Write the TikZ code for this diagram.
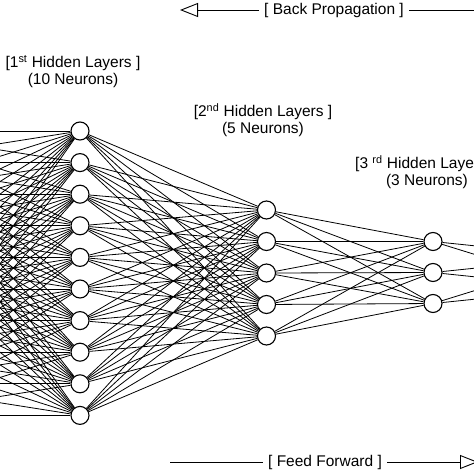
\documentclass[tikz,border=0pt]{standalone}
\usepackage{fontspec}
\setmainfont{Liberation Sans}
\usetikzlibrary{arrows.meta}
\tikzset{
  neuron/.style={circle,draw,line width=1.1pt,fill=white,minimum size=18pt,inner sep=0pt},
  synapse/.style={line width=0.8pt},
  layertext/.style={align=center,font=\fontsize{15.5}{17}\selectfont,inner sep=0pt},
  flowtext/.style={font=\fontsize{15.5}{17}\selectfont,inner sep=5pt},
  flowarrow/.style={line width=0.9pt,-{Triangle[open,length=18pt,width=14pt]}}
}
\begin{document}
\begin{tikzpicture}[x=1pt,y=-1pt]
  \useasboundingbox (0,0) rectangle (474,474);
  \clip (0,0) rectangle (474,474);
  \foreach \i in {1,...,10} \node[neuron] (in-\i) at (-120,{131+31.6*(\i-1)}) {};
  \foreach \i in {1,...,10} \node[neuron] (ha-\i) at (80,{131+31.6*(\i-1)}) {};
  \foreach \i in {1,...,5} \node[neuron] (hb-\i) at (266.5,{210+31.5*(\i-1)}) {};
  \foreach \i in {1,...,3} \node[neuron] (hc-\i) at (433,{241.5+31*(\i-1)}) {};
  \foreach \i in {1,2} \node[neuron] (out-\i) at (583,{257+31*(\i-1)}) {};
  \foreach \i in {1,...,10} \foreach \j in {1,...,10} \draw[synapse] (in-\i) -- (ha-\j);
  \foreach \i in {1,...,10} \foreach \j in {1,...,5} \draw[synapse] (ha-\i) -- (hb-\j);
  \foreach \i in {1,...,5} \foreach \j in {1,...,3} \draw[synapse] (hb-\i) -- (hc-\j);
  \foreach \i in {1,...,3} \foreach \j in {1,2} \draw[synapse] (hc-\i) -- (out-\j);
  \node[layertext] (la) at (73,71.5) {[1\textsuperscript{st} Hidden Layers ]\\(10 Neurons)};
  \node[layertext] (lb) at (263,120.5) {[2\textsuperscript{nd} Hidden Layers ]\\(5 Neurons)};
  \node[layertext,anchor=north west] (lc) at (355,155) {[3 \textsuperscript{rd} Hidden Layers ]};
  \node[layertext] (lc2) at (427,181) {(3 Neurons)};
  \node[flowtext] (bp) at (334,10) {[ Back Propagation ]};
  \coordinate (bpR) at (480,10);
  \coordinate (bpL) at (180,10);
  \draw[line width=0.9pt] (bpR) -- (bp);
  \draw[flowarrow] (bp) -- (bpL);
  \node[flowtext] (ff) at (325,462) {[ Feed Forward ]};
  \coordinate (ffL) at (170,462);
  \coordinate (ffR) at (478,462);
  \draw[line width=0.9pt] (ffL) -- (ff);
  \draw[flowarrow] (ff) -- (ffR);
\end{tikzpicture}
\end{document}
